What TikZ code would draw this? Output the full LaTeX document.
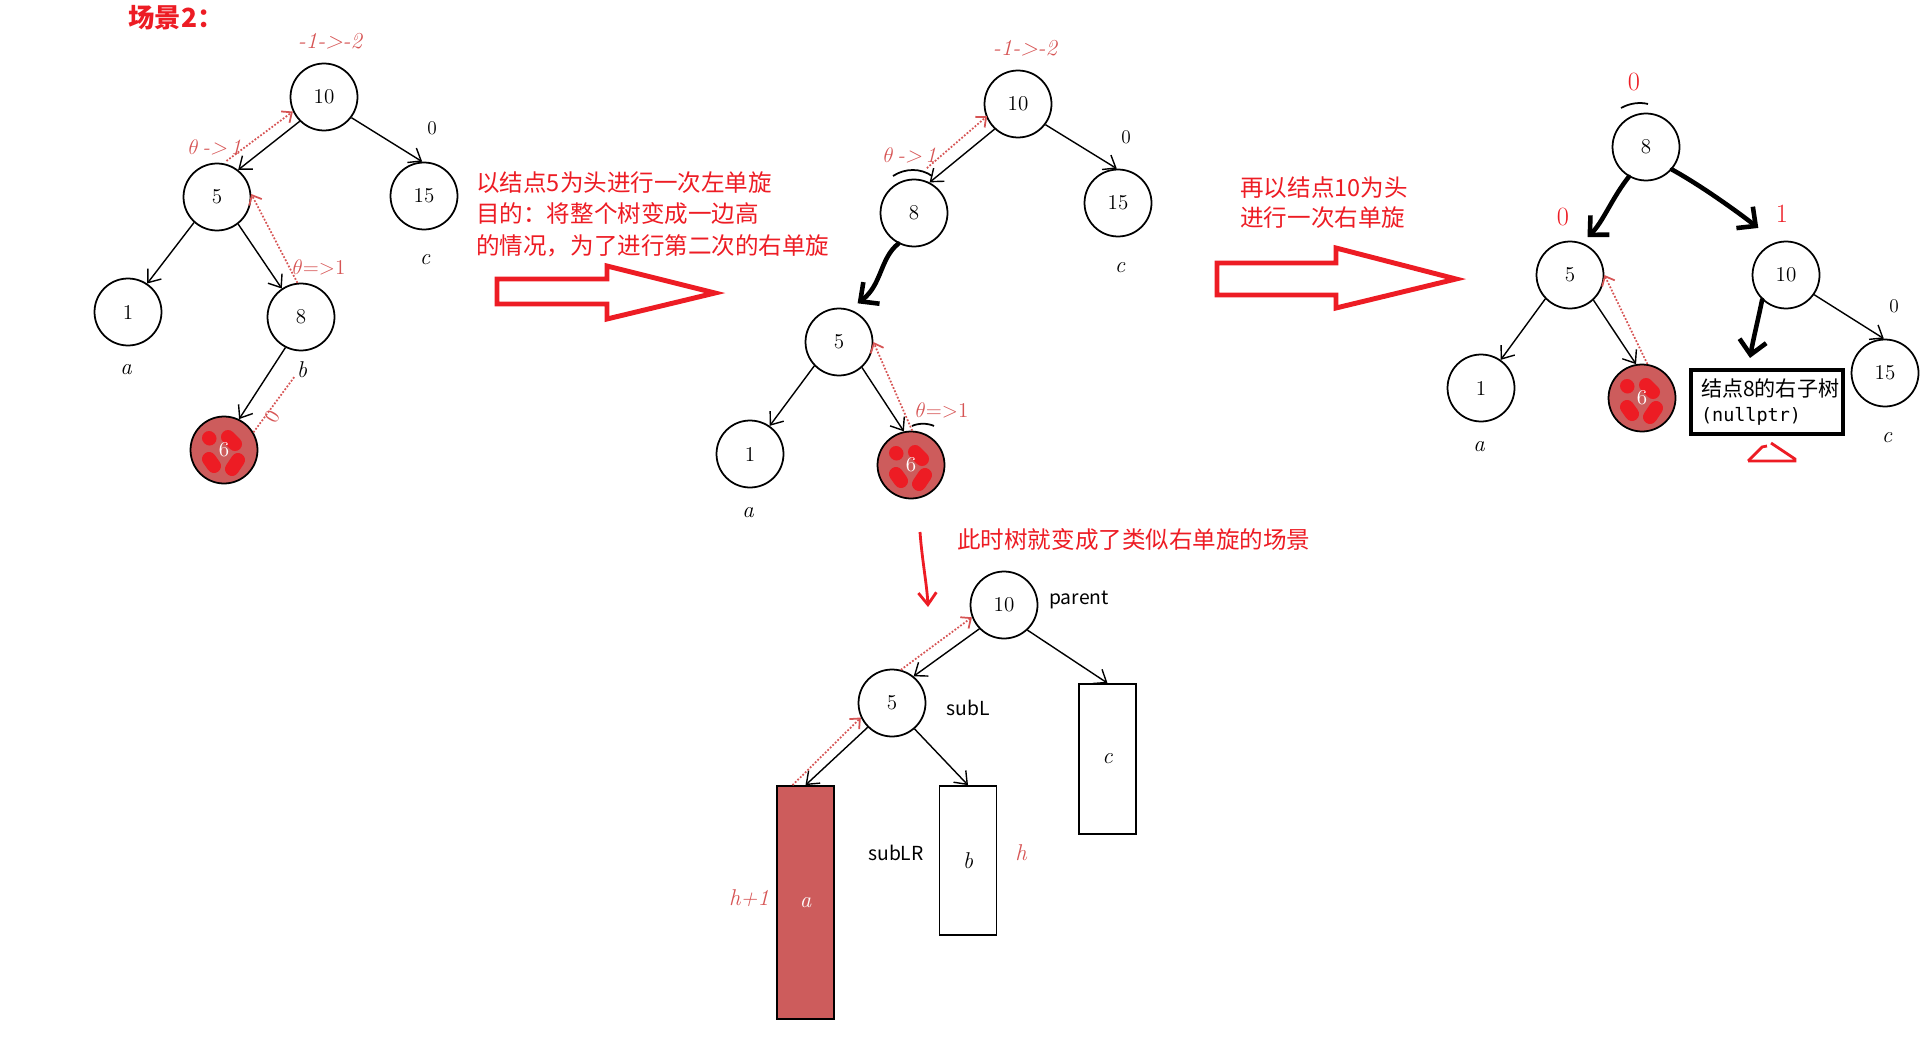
\documentclass[tikz,border=0pt]{standalone}
\usepackage{fontspec}
\newfontfamily\cjk{Noto Sans CJK SC}
\newfontfamily\codefont{DejaVu Sans Mono}
\usetikzlibrary{arrows.meta,positioning}

\definecolor{inkred}{RGB}{237,28,36}
\definecolor{penred}{RGB}{214,84,84}
\definecolor{leafred}{RGB}{205,92,92}

% red blobs painted inside the freshly inserted node
\newcommand{\spot}[2]{\draw[inkred, line width=0.28cm, line cap=round]
  ([shift={#1}]path picture bounding box.center) -- ([shift={#2}]path picture bounding box.center);}

\begin{document}
\begin{tikzpicture}[x=0.02cm, y=-0.02cm,
  avl/.style={circle, draw, line width=1pt, minimum size=1.34cm, inner sep=0pt, font=\fontsize{12}{14}\selectfont},
  hot/.style={avl, fill=leafred, text=white, path picture={%
      \spot{(-0.30cm,0.24cm)}{(-0.29cm,0.23cm)}
      \spot{(0.08cm,0.26cm)}{(0.22cm,0.12cm)}
      \spot{(-0.30cm,-0.18cm)}{(-0.20cm,-0.32cm)}
      \spot{(0.28cm,-0.20cm)}{(0.16cm,-0.38cm)}}},
  down/.style={line width=0.8pt, -{Straight Barb[length=2.2mm, width=3.4mm]}},
  hand/.style={line width=2.6pt, line cap=round, -{Straight Barb[length=2.8mm, width=5.4mm]}},
  bf/.style={draw=penred, densely dotted, line width=1pt, -{Straight Barb[length=1.6mm, width=2.8mm]}},
  bfval/.style={text=penred, inner sep=0pt, font=\fontsize{12}{14}\selectfont},
  lbl/.style={inner sep=0pt, font=\fontsize{13}{15}\selectfont\itshape},
  note/.style={text=inkred, inner sep=0pt, align=left, font=\cjk\fontsize{13.4}{17.9}\selectfont},
  tag/.style={inner sep=0pt, font=\cjk\fontsize{11}{13}\selectfont},
  block/.style={draw=inkred, line width=2.8pt},
  subtree/.style={draw, line width=1pt, minimum width=1.14cm, inner sep=0pt, font=\fontsize{13}{15}\selectfont\itshape},
]
\useasboundingbox (0,0) rectangle (1929,1044);

%--- LEFT TREE: 6 inserted under 8 ---
\node[note, anchor=west, font=\cjk\bfseries\fontsize{15}{18}\selectfont] (title) at (128,18) {场景2：};

\node[avl] (a10) at (324,97) {10};
\node[avl] (a5) at (217,197) {5};
\node[avl] (a15) at (424,196) {15};
\node[avl] (a1) at (128,312) {1};
\node[avl] (a8) at (301,317) {8};
\node[hot] (a6) at (224,450) {6};

\draw[down] (a10.-135) -- (a5.52);
\draw[down] (a10.-37) -- (a15.93);
\draw[down] (a5.-132) -- (a1.56);
\draw[down] (a5.-52) -- (a8.124);
\draw[down] (a8.-117) -- (a6.64);

% balance factors going up
\draw[bf] ([yshift=0.06cm]a5.74) -- (a10.-155);
\draw[bf] (a8.96) -- (a5.5);
\coordinate (a6up) at (295,376);
\draw[bf, -] (a6.31) -- (a6up);

\node[bfval, font=\fontsize{13}{15}\selectfont\itshape] (a10bf) at (330,41) {-1->-2};
\node[bfval, font=\fontsize{12.5}{14}\selectfont\itshape] (a5bf) at (215,147) {$\theta$\,->\,1};
\node[bfval] (a8bf) at (319,267) {$\theta$=>1};
\node[bfval, rotate=60] (a6bf) at (272,417) {0};
\node[font=\fontsize{11}{13}\selectfont] (a15bf) at (432,128) {0};
\node[lbl] (la) at (126,370) {a};
\node[lbl] (lb) at (302,370) {b};
\node[lbl] (lc) at (425,260) {c};

%--- FIRST ROTATION ---
\node[note, anchor=north west] (step1) at (476,171) {以结点5为头进行一次左单旋\\目的：将整个树变成一边高\\的情况，为了进行第二次的右单旋};
\draw[block] (497,279) -- (607,279) -- (607,266) -- (715,293) -- (607,319) -- (607,304) -- (497,304) -- cycle;

%--- MIDDLE TREE: after left rotation at 5 ---
\node[avl] (b10) at (1018,104) {10};
\node[avl] (b15) at (1118,203) {15};
\node[avl] (b8) at (914,213) {8};
\node[avl] (b5) at (839,342) {5};
\node[avl] (b1) at (750,454) {1};
\node[hot] (b6) at (911,465) {6};

\draw[down] (b10.-133) -- (b8.63);
\draw[down] (b10.-37) -- (b15.92);
\draw[hand, shorten >=0.2cm] (b8.-117) .. controls (880,258) and (882,285) .. (b5.72);
\draw[down] (b5.-136) -- (b1.55);
\draw[down] (b5.-48) -- (b6.102);
\draw[bf] ([yshift=0.26cm]b8.68) -- ([yshift=0.06cm]b10.-154);
\draw[bf] (b6.88) -- (b5.0);
\draw[line width=1pt] (893,176) .. controls (905,168) and (921,168) .. (932,176);
\draw[line width=1pt] (912,426) .. controls (918,423) and (928,423) .. (934,426);

\node[bfval, font=\fontsize{13}{15}\selectfont\itshape] (b10bf) at (1025,48) {-1->-2};
\node[bfval, font=\fontsize{12.5}{14}\selectfont\itshape] (b8bf) at (910,155) {$\theta$\,->\,1};
\node[bfval] (b6bf) at (942,410) {$\theta$=>1};
\node[font=\fontsize{11}{13}\selectfont] (b15bf) at (1126,137) {0};
\node[lbl] (ma) at (748,513) {a};
\node[lbl] (mc) at (1120,268) {c};

%--- SECOND ROTATION ---
\node[note, anchor=north west, font=\cjk\fontsize{13.4}{17}\selectfont] (step2) at (1240,176) {再以结点10为头\\进行一次右单旋};
\draw[block] (1217,263) -- (1336,263) -- (1336,248) -- (1456,279) -- (1336,308) -- (1336,295) -- (1217,295) -- cycle;

%--- RIGHT TREE: after right rotation at 10 ---
\node[avl] (c8) at (1646,147) {8};
\node[avl] (c5) at (1570,275) {5};
\node[avl] (c10) at (1786,275) {10};
\node[avl] (c1) at (1481,388) {1};
\node[hot] (c6) at (1642,398) {6};
\node[avl] (c15) at (1885,373) {15};
\node[draw, line width=2.3pt, minimum width=3.04cm, minimum height=1.28cm, text width=2.64cm,
      inner xsep=0.2cm, align=left, font=\fontsize{12}{14.7}\selectfont] (c8right) at (1767,402)
      {\cjk 结点8的右子树\\{\codefont\fontsize{10.5}{14.7}\selectfont (nullptr)}};

\draw[hand, shorten >=0.16cm] (c8.-120) .. controls (1612,198) and (1603,222) .. (c5.70);
\draw[hand, shorten >=0.46cm] (c8.-41) .. controls (1700,185) and (1735,210) .. (c10.106);
\draw[down] (c5.-136) -- (c1.55);
\draw[down] (c5.-47) -- (c6.100);
\draw[down] (c10.-35) -- (c15.92);
\draw[hand] (c10.-134) .. controls (1758,320) and (1753,340) .. ([xshift=-0.34cm, yshift=0.2cm]c8right.north);
\draw[bf] (c6.81) -- (c5.0);
\draw[line width=1pt] (1621,108) .. controls (1630,103) and (1640,102) .. (1648,104);
\draw[inkred, line width=1.6pt] (1748,461) -- (1762,447) -- (1767,446);
\draw[inkred, line width=1.6pt] (1771,443) -- (1795,459) -- (1795,461) -- (1748,461);

\node[text=inkred, font=\fontsize{15}{17}\selectfont] (c8bf) at (1634,82) {0};
\node[text=inkred, font=\fontsize{15}{17}\selectfont] (c5bf) at (1563,217) {0};
\node[text=inkred, font=\fontsize{15}{17}\selectfont] (c10bf) at (1782,214) {1};
\node[font=\fontsize{11}{13}\selectfont] (c15bf) at (1894,306) {0};
\node[lbl] (ra) at (1479,447) {a};
\node[lbl] (rc) at (1887,438) {c};

%--- BOTTOM: the same tree seen as subtrees ---
\node[note, anchor=west] (step3) at (957,540) {此时树就变成了类似右单旋的场景};
\coordinate (pointtop) at (920,532);
\coordinate (pointtip) at (928,607);
\draw[inkred, line width=1.6pt, -{Straight Barb[length=2.4mm, width=3.6mm]}] (pointtop) .. controls (922,560) and (927,585) .. (pointtip);

\node[avl] (d10) at (1004,605) {10};
\node[avl] (d5) at (892,703) {5};
\node[subtree, minimum height=3.0cm] (dc) at (1107.5,759) {c};
\node[subtree, minimum height=2.98cm] (db) at (968,860.5) {b};
\node[subtree, minimum height=4.66cm, fill=leafred, text=white] (da) at (805.5,902.5) {a};

\draw[down] (d10.-136) -- (d5.51);
\draw[down] (d10.-47) -- (dc.north);
\draw[down] (d5.-135) -- (da.north);
\draw[down] (d5.-49) -- (db.north);
\draw[bf] ([xshift=-0.26cm]da.north) -- (d5.-155);
\draw[bf] (d5.75) -- (d10.-159);

\node[tag] (parent) at (1079,600) {parent};
\node[tag] (subl) at (968,708) {subL};
\node[tag] (sublr) at (896,853) {subLR};
\node[lbl, text=penred] (hb) at (1021,853) {h};
\node[lbl, text=penred] (ha) at (749,898) {h+1};

\end{tikzpicture}
\end{document}
